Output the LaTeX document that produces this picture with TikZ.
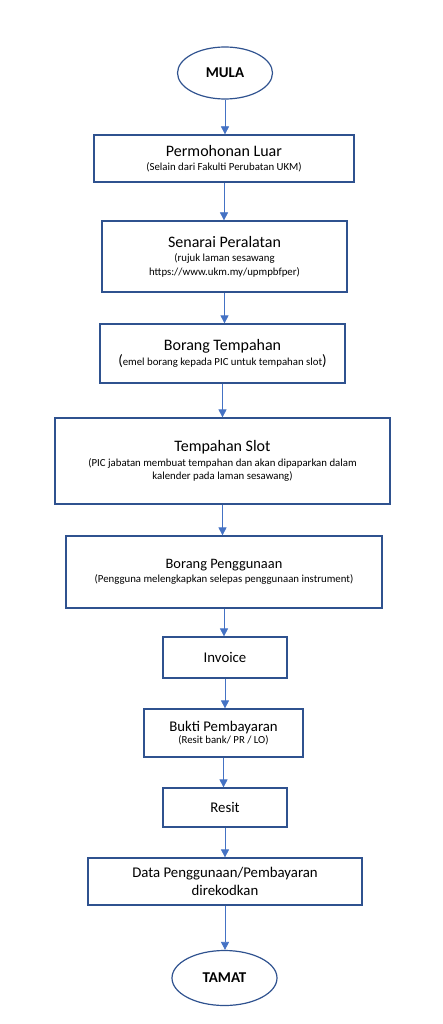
\documentclass[tikz,border=0pt]{standalone}
\usepackage{fontspec}
\setmainfont{Carlito}
\usetikzlibrary{shapes.geometric,arrows.meta}
\definecolor{boxblue}{RGB}{47,82,143}
\definecolor{arrblue}{RGB}{68,114,196}
\newcommand\ttlf{\fontsize{16}{17}\selectfont}
\newcommand\midf{\fontsize{14.8}{18}\selectfont}
\newcommand\subf{\fontsize{10.8}{13.5}\selectfont}
\tikzset{
  box/.style={draw=boxblue, line width=1.2pt, rectangle, inner sep=0pt, align=center, fill=white, font=\subf},
  term/.style={draw=boxblue, line width=1.2pt, ellipse, inner sep=0pt, font=\fontsize{15}{17}\selectfont\bfseries},
  flow/.style={draw=arrblue, line width=0.7pt, -{Triangle[length=8pt,width=8pt]}}
}
\begin{document}
\begin{tikzpicture}[x=1pt,y=-1pt]
\useasboundingbox (0,0) rectangle (443,1024);
\node[term, minimum width=95pt, minimum height=52pt] (mula) at (225,73) {MULA};
\node[box, minimum width=260pt, minimum height=47pt] (p1) at (224,158.5)
  {{\ttlf Permohonan Luar}\\[1pt] (Selain dari Fakulti Perubatan UKM)};
\node[box, minimum width=245pt, minimum height=71pt] (p2) at (224.5,256.5)
  {{\ttlf Senarai Peralatan}\\[1pt] (rujuk laman sesawang\\ https://www.ukm.my/upmpbfper)};
\node[box, minimum width=245pt, minimum height=59pt] (p3) at (222.5,353.5)
  {{\ttlf Borang Tempahan}\\[1pt] {\fontsize{15}{15}\selectfont(}emel borang kepada PIC untuk tempahan slot{\fontsize{15}{15}\selectfont)}};
\node[box, minimum width=335pt, minimum height=86pt] (p4) at (222.5,461)
  {{\ttlf Tempahan Slot}\\[1pt] (PIC jabatan membuat tempahan dan akan dipaparkan dalam\\ kalender pada laman sesawang)};
\node[box, minimum width=316pt, minimum height=72pt] (p5) at (224,572)
  {{\fontsize{14.4}{17}\selectfont Borang Penggunaan}\\[1pt] (Pengguna melengkapkan selepas penggunaan instrument)};
\node[box, minimum width=124pt, minimum height=41pt, font=\midf] (p6) at (225,657.5) {Invoice};
\node[box, minimum width=159pt, minimum height=48pt] (p7) at (223.5,733)
  {{\midf Bukti Pembayaran}\\[-1pt] (Resit bank/ PR / LO)};
\node[box, minimum width=124pt, minimum height=39pt, font=\midf] (p8) at (225,807.5) {Resit};
\node[box, minimum width=274pt, minimum height=47pt, font=\midf] (p9) at (225,881.5)
  {Data Penggunaan/Pembayaran\\ direkodkan};
\node[term, minimum width=105pt, minimum height=55pt] (tamat) at (224.5,978) {TAMAT};
\draw[flow] (mula.south) -- (mula.south |- p1.north);
\draw[flow] (p1.south) -- (p1.south |- p2.north);
\draw[flow] (p2.south) -- (p2.south |- p3.north);
\draw[flow] (p3.south) -- (p3.south |- p4.north);
\draw[flow] (p4.south) -- (p4.south |- p5.north);
\draw[flow] (p5.south) -- (p5.south |- p6.north);
\draw[flow] (p6.south) -- (p6.south |- p7.north);
\draw[flow] (p7.south) -- (p7.south |- p8.north);
\draw[flow] (p8.south) -- (p8.south |- p9.north);
\draw[flow] (p9.south) -- (p9.south |- tamat.north);
\end{tikzpicture}
\end{document}
